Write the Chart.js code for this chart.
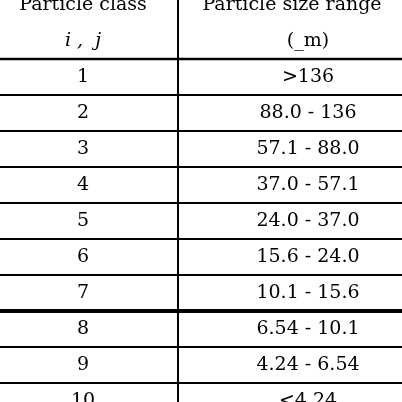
<!DOCTYPE html>
<html><head><meta charset="utf-8">
<script src="https://cdn.jsdelivr.net/npm/chart.js@4"></script>
<style>html,body{margin:0;padding:0;background:#fff}#c{width:402px;height:402px}</style>
</head><body>
<div id="c"><canvas id="tbl" width="402" height="402"></canvas></div>
<script>
// table contents, one entry per row
const headerLeft = ['Particle class', 'i ,  j'];
const headerRight = ['Particle size range', '(_m)'];
const classes = ['1','2','3','4','5','6','7','8','9','10'];
const sizeRanges = ['>136','88.0 - 136','57.1 - 88.0','37.0 - 57.1','24.0 - 37.0','15.6 - 24.0','10.1 - 15.6','6.54 - 10.1','4.24 - 6.54','<4.24'];
const thickAfter = [1, 8]; // row indexes followed by a heavy rule

var leftCol = headerLeft.concat(classes);
var rightCol = headerRight.concat(sizeRanges);

var tablePlugin = {
    id: 'tablePlugin',
    afterDraw: function(chart){
        var ctx = chart.ctx;
        var xs = chart.scales.x, ys = chart.scales.y;
        ctx.save();
        ctx.fillStyle = '#000';
        ctx.strokeStyle = '#000';
        ctx.textAlign = 'center';
        ctx.textBaseline = 'middle';
        for (var r = 0; r < leftCol.length; r++) {
            var y = ys.getPixelForValue(r);
            ctx.font = (r == 1 ? 'italic ' : '') + '19px "DejaVu Serif", serif';
            ctx.fillText(leftCol[r], xs.getPixelForValue(83), y);
            ctx.font = '19px "DejaVu Serif", serif';
            ctx.fillText(rightCol[r], xs.getPixelForValue(r == 0 ? 292 : 308), y);
            if (r >= 1) {
                var ly = ys.getPixelForValue(r + 0.5);
                ctx.lineWidth = thickAfter.indexOf(r) >= 0 ? (r == 8 ? 4 : 2.5) : 2;
                ctx.beginPath();
                ctx.moveTo(0, ly); ctx.lineTo(402, ly);
                ctx.stroke();
            }
        }
        ctx.lineWidth = 2;
        ctx.beginPath();
        ctx.moveTo(xs.getPixelForValue(178), 0);
        ctx.lineTo(xs.getPixelForValue(178), 402);
        ctx.stroke();
        ctx.restore();
    }
};

new Chart(document.getElementById('tbl').getContext('2d'), {
    type: 'scatter',
    data: { datasets: [{ data: [] }] },
    options: {
        responsive: false,
        animation: false,
        layout: { padding: 0 },
        plugins: { legend: { display: false }, tooltip: { enabled: false } },
        scales: {
            x: { type: 'linear', min: 0, max: 402, display: false },
            y: { type: 'linear', min: -5/36, max: 397/36, reverse: true, display: false }
        }
    },
    plugins: [tablePlugin]
});
</script>
</body></html>
